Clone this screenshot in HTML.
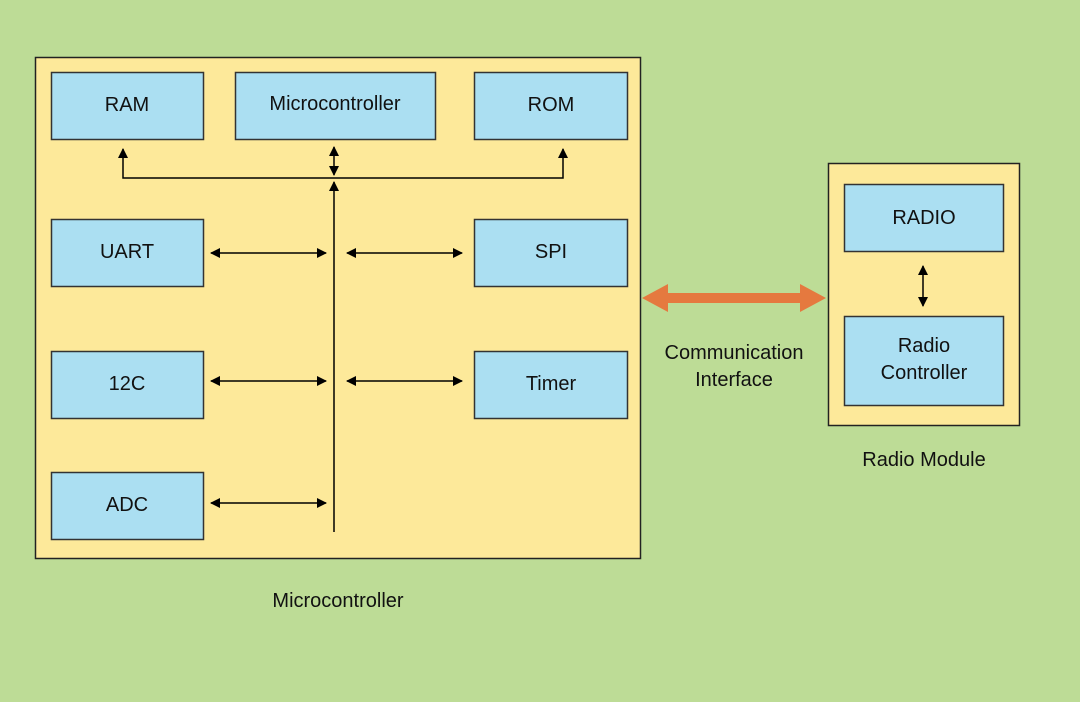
<!DOCTYPE html>
<html><head><meta charset="utf-8"><style>
html,body{margin:0;padding:0;background:#bddc96;}
svg{display:block;font-family:"Liberation Sans",Arial,sans-serif;}
text{font-size:20px;fill:#111;text-anchor:middle;}
</style></head><body>
<svg width="1080" height="702" viewBox="0 0 1080 702" xmlns="http://www.w3.org/2000/svg">
<defs>
<marker id="a" markerWidth="10" markerHeight="10" refX="9" refY="5" orient="auto-start-reverse" markerUnits="userSpaceOnUse"><path d="M0,0 L10,5 L0,10 z" fill="#000"/></marker>
</defs>
<rect x="0" y="0" width="1080" height="702" fill="#bddc96"/>
<rect x="35.5" y="57.5" width="605" height="501" fill="#fde99a" stroke="#222" stroke-width="1.5"/>
<g fill="#abdff2" stroke="#333" stroke-width="1.5">
<rect x="51.5" y="72.5" width="152" height="67"/>
<rect x="235.5" y="72.5" width="200" height="67"/>
<rect x="474.5" y="72.5" width="153" height="67"/>
<rect x="51.5" y="219.5" width="152" height="67"/>
<rect x="474.5" y="219.5" width="153" height="67"/>
<rect x="51.5" y="351.5" width="152" height="67"/>
<rect x="474.5" y="351.5" width="153" height="67"/>
<rect x="51.5" y="472.5" width="152" height="67"/>
</g>
<text x="127" y="111">RAM</text>
<text x="335" y="110">Microcontroller</text>
<text x="551" y="111">ROM</text>
<text x="127" y="258">UART</text>
<text x="551" y="258">SPI</text>
<text x="127" y="390">12C</text>
<text x="551" y="390">Timer</text>
<text x="127" y="511">ADC</text>
<g stroke="#000" stroke-width="1.5" fill="none">
<polyline points="123,149 123,178 563,178 563,149" marker-start="url(#a)" marker-end="url(#a)"/>
<line x1="334" y1="532" x2="334" y2="182" marker-end="url(#a)"/>
<line x1="334" y1="147" x2="334" y2="175" marker-start="url(#a)" marker-end="url(#a)"/>
<line x1="211" y1="253" x2="326" y2="253" marker-start="url(#a)" marker-end="url(#a)"/>
<line x1="347" y1="253" x2="462" y2="253" marker-start="url(#a)" marker-end="url(#a)"/>
<line x1="211" y1="381" x2="326" y2="381" marker-start="url(#a)" marker-end="url(#a)"/>
<line x1="347" y1="381" x2="462" y2="381" marker-start="url(#a)" marker-end="url(#a)"/>
<line x1="211" y1="503" x2="326" y2="503" marker-start="url(#a)" marker-end="url(#a)"/>
<line x1="923" y1="266" x2="923" y2="306" marker-start="url(#a)" marker-end="url(#a)"/>
</g>
<rect x="828.5" y="163.5" width="191" height="262" fill="#fde99a" stroke="#222" stroke-width="1.5"/>
<rect x="844.5" y="184.5" width="159" height="67" fill="#abdff2" stroke="#333" stroke-width="1.5"/>
<rect x="844.5" y="316.5" width="159" height="89" fill="#abdff2" stroke="#333" stroke-width="1.5"/>
<line x1="923" y1="266" x2="923" y2="306" stroke="#000" stroke-width="1.5" marker-start="url(#a)" marker-end="url(#a)"/>
<text x="924" y="224">RADIO</text>
<text x="924" y="352">Radio</text>
<text x="924" y="379">Controller</text>
<path d="M642,298 L668,284 L668,293 L800,293 L800,284 L826,298 L800,312 L800,303 L668,303 L668,312 Z" fill="#e5793f"/>
<text x="734" y="359">Communication</text>
<text x="734" y="386">Interface</text>
<text x="924" y="466">Radio Module</text>
<text x="338" y="607">Microcontroller</text>
</svg>
</body></html>
